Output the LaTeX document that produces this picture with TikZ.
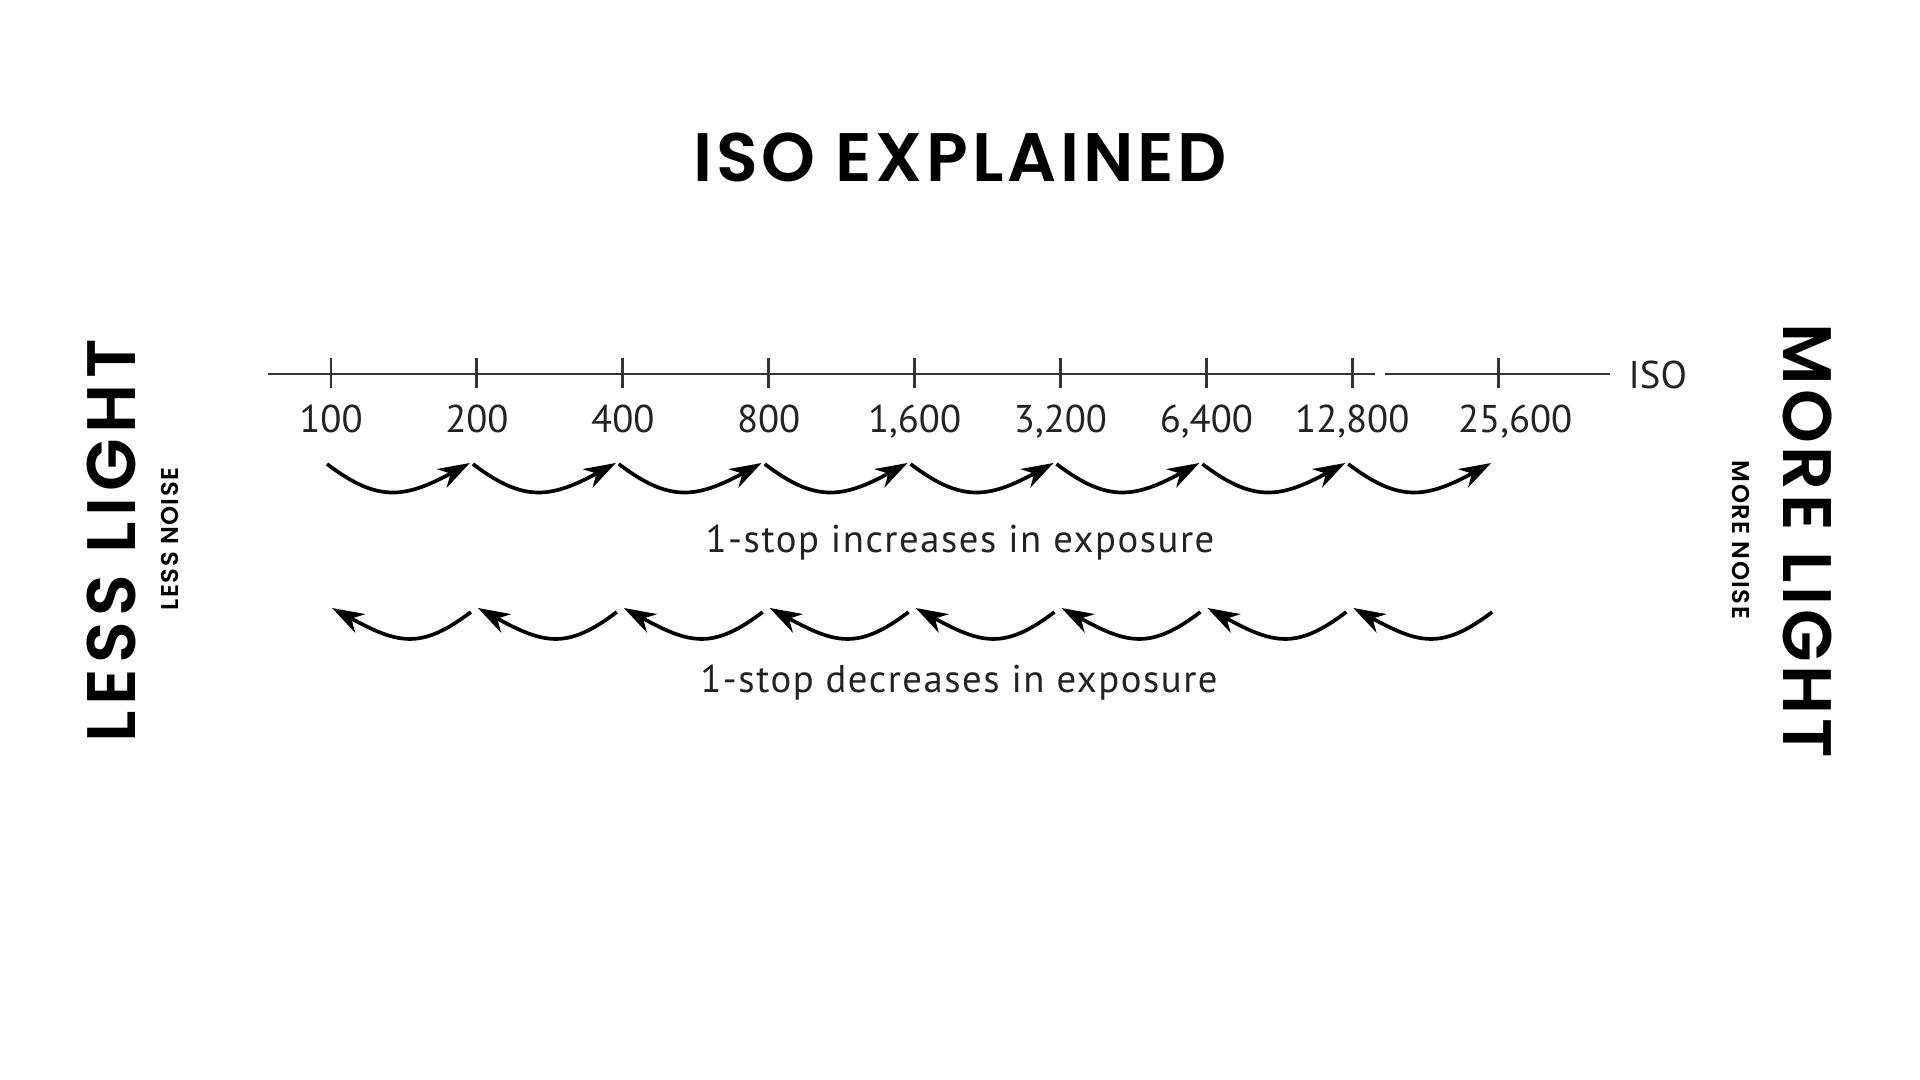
\documentclass[tikz,border=0pt]{standalone}
\usepackage{fontspec}
\usetikzlibrary{arrows.meta,calc}
\newfontfamily\geo{Poppins SemiBold}[LetterSpace=5.5]
\newfontfamily\geoL{Poppins SemiBold}[LetterSpace=8]
\newfontfamily\geoM{Poppins SemiBold}[LetterSpace=5.5]
\newfontfamily\geosmall{Poppins SemiBold}[LetterSpace=6]
\newfontfamily\lab{PT Sans}
\newfontfamily\labwide{PT Sans}[LetterSpace=4]
\definecolor{axisgray}{HTML}{333333}
\definecolor{labgray}{HTML}{222222}
\tikzset{
  axisline/.style={draw=axisgray, line width=0.7pt},
  tickline/.style={draw=axisgray, line width=0.85pt},
  isolabel/.style={inner sep=0pt, anchor=base, text=labgray, font=\lab\fontsize{11}{13}\selectfont},
  phrase/.style={inner sep=0pt, anchor=base, text=labgray, font=\labwide\fontsize{11}{13}\selectfont},
  titlestyle/.style={inner sep=0pt, anchor=base, font=\geo\fontsize{19.5}{22}\selectfont},
  lessside/.style={inner sep=0pt, anchor=base, font=\geoL\fontsize{19.5}{22}\selectfont},
  moreside/.style={inner sep=0pt, anchor=base, font=\geoM\fontsize{19.5}{22}\selectfont},
  smallside/.style={inner sep=0pt, anchor=base, font=\geosmall\fontsize{6.9}{8}\selectfont},
  arc/.style={draw=black, line width=1.05pt, -{Stealth[length=0.32cm, width=0.21cm, inset=0.1cm]}},
}
\begin{document}
\begin{tikzpicture}[x=0.01cm, y=-0.01cm]
\useasboundingbox[fill=white] (0,0) rectangle (1920,1080);

% title
\node[titlestyle] (title) at (960,182) {ISO EXPLAINED};

% axis
\coordinate (ax0) at (268,374);
\coordinate (ax1) at (1375,374);
\coordinate (ax2) at (1385,374);
\coordinate (ax3) at (1610,374);
\draw[axisline] (ax0) -- (ax1);
\draw[axisline] (ax2) -- (ax3);
\node[inner sep=0pt, anchor=base west, text=labgray, font=\lab\fontsize{11}{13}\selectfont] (iso) at (1628,389) {ISO};

\foreach \i in {0,...,8}{
  \coordinate (t\i) at ({331+145.9*\i},374);
  \draw[tickline] ($(t\i)+(0,-16)$) -- ($(t\i)+(0,14)$);
}
\foreach \i/\v in {0/100,1/200,2/400,3/800,4/{1,600},5/{3,200},6/{6,400},7/{12,800}}{
  \node[isolabel] (l\i) at ($(t\i)+(0,59)$) {\v};
}
\node[isolabel] (l8) at ($(t8)+(17,59)$) {25,600};

% increase arcs
\foreach \i [evaluate=\i as \j using int(\i+1)] in {0,...,7}{
  \coordinate (us\i) at ($(t\i)+(-4,90)$);
  \coordinate (ue\i) at ($(t\j)+(-7,89)$);
  \draw[arc] (us\i) .. controls +(50,38) and +(-66,36) .. (ue\i);
}
\node[phrase] (inc) at (960,553) {1-stop increases in exposure};

% decrease arcs
\foreach \i [evaluate=\i as \j using int(\i+1)] in {0,...,7}{
  \coordinate (ds\i) at ($(t\j)+(-6,238)$);
  \coordinate (de\i) at ($(t\i)+(1,234)$);
  \draw[arc] (ds\i) .. controls +(-50,38) and +(66,36) .. (de\i);
}
\node[phrase] (dec) at (959,693) {1-stop decreases in exposure};

% side labels
\node[lessside, rotate=90] (lesslight) at (136,541) {LESS LIGHT};
\node[smallside, rotate=90] (lessnoise) at (178,539) {LESS NOISE};
\node[moreside, rotate=-90] (morelight) at (1783,541) {MORE LIGHT};
\node[smallside, rotate=-90] (morenoise) at (1732,540) {MORE NOISE};
\end{tikzpicture}
\end{document}
